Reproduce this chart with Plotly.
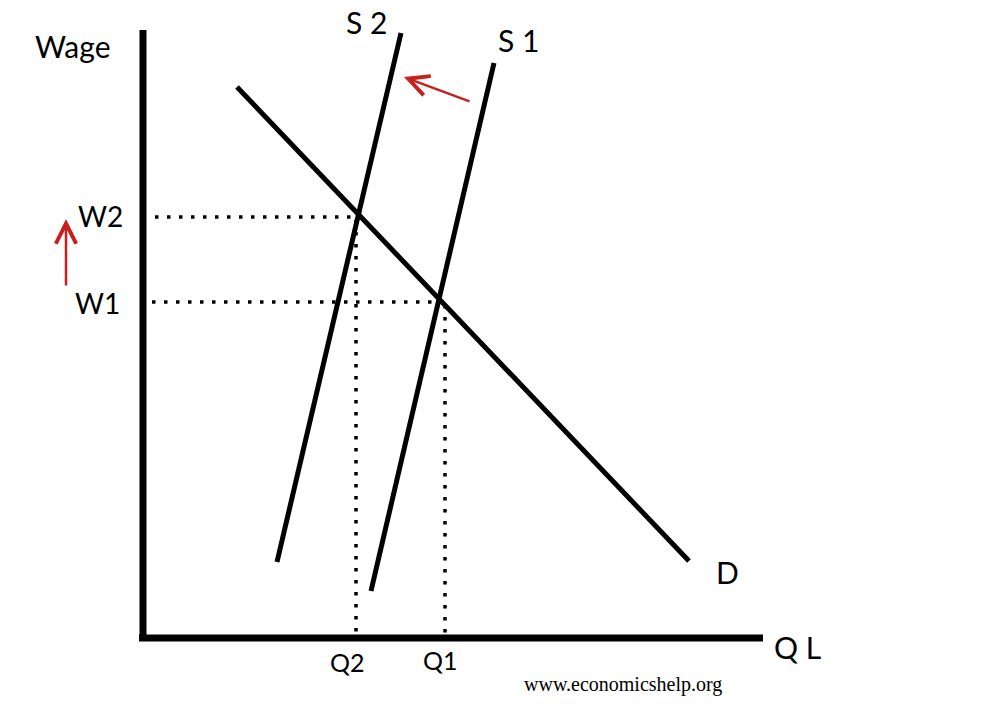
import plotly.graph_objects as go

# axes of the diagram (image pixel space, y grows downward)
wage_axis_x = [143, 143]
wage_axis_y = [30, 641]
ql_axis_x = [139, 763]
ql_axis_y = [638, 638]

# curves
demand_x = [237, 689]
demand_y = [87, 561]
s1_x = [494, 371]
s1_y = [63, 591]
s2_x = [401, 277]
s2_y = [33, 562]

# dotted guide lines
w2_x = [155, 356]
w2_y = [217, 217]
w1_x = [152, 442]
w1_y = [302, 302]
q2_x = [356, 356]
q2_y = [220, 637]
q1_x = [445, 445]
q1_y = [305, 637]

# shift arrows: [head_x, head_y, tail_x, tail_y]
supply_arrow = [404, 77, 471, 102]
wage_arrow = [66, 219, 66, 287]

labels = [
    ("Wage", 72, 46, 30),
    ("S 2", 366, 22, 30),
    ("S 1", 518, 40, 30),
    ("W2", 100, 216, 28),
    ("W1", 97, 303, 28),
    ("D", 727, 572, 30),
    ("Q L", 797, 647, 30),
    ("Q2", 347, 662, 25),
    ("Q1", 440, 660, 25),
]
site = "www.economicshelp.org"

fig = go.Figure()


def add_line(x, y, width=5, dash="solid"):
    fig.add_trace(
        go.Scatter(
            x=x,
            y=y,
            mode="lines",
            line=dict(color="black", width=width, dash=dash),
            showlegend=False,
            hoverinfo="skip",
        )
    )


add_line(wage_axis_x, wage_axis_y, width=7)
add_line(ql_axis_x, ql_axis_y, width=7)
add_line(demand_x, demand_y)
add_line(s1_x, s1_y)
add_line(s2_x, s2_y)
for gx, gy in [(w2_x, w2_y), (w1_x, w1_y), (q2_x, q2_y), (q1_x, q1_y)]:
    add_line(gx, gy, width=3.5, dash="3.5px,8.5px")

for hx, hy, tx, ty in [supply_arrow, wage_arrow]:
    fig.add_annotation(
        x=hx,
        y=hy,
        ax=tx,
        ay=ty,
        xref="x",
        yref="y",
        axref="x",
        ayref="y",
        text="",
        showarrow=True,
        arrowhead=5,
        arrowsize=1.6,
        arrowwidth=2.5,
        arrowcolor="#c8201e",
    )

for text, lx, ly, size in labels:
    fig.add_annotation(
        x=lx,
        y=ly,
        xref="x",
        yref="y",
        text=text,
        showarrow=False,
        font=dict(family="Lato", size=size, color="black"),
    )

fig.add_annotation(
    x=623,
    y=684,
    xref="x",
    yref="y",
    text=site,
    showarrow=False,
    font=dict(family="Liberation Serif", size=20, color="black"),
)

fig.update_xaxes(range=[0, 1007], visible=False, fixedrange=True)
fig.update_yaxes(range=[711, 0], visible=False, fixedrange=True)
fig.update_layout(
    width=1007,
    height=711,
    margin=dict(l=0, r=0, t=0, b=0),
    plot_bgcolor="white",
    paper_bgcolor="white",
)

# drop the page's default body margin so the figure sits at the corner
fig.write_html(
    "out.html",
    config={"displayModeBar": False},
    post_script="document.body.style.margin='0px';",
)
